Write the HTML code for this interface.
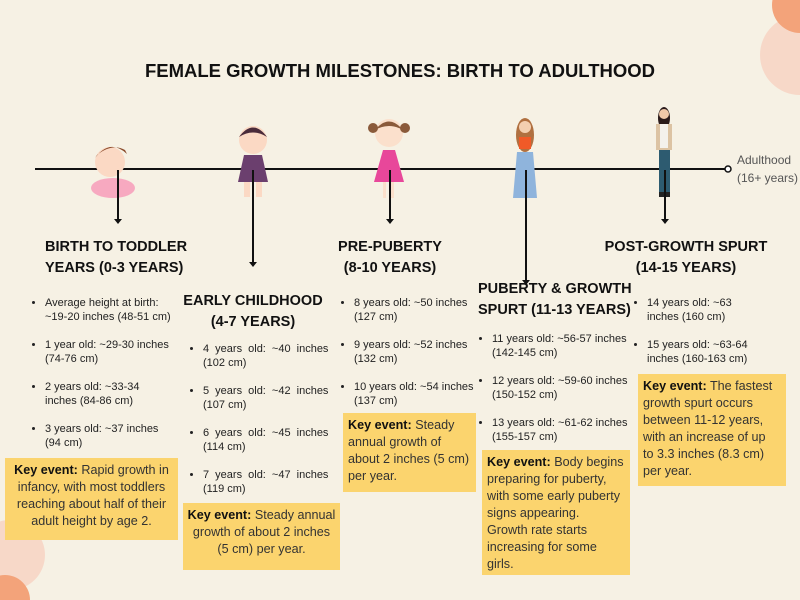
<!DOCTYPE html>
<html><head><meta charset="utf-8"><style>
body{margin:0;width:800px;height:600px;overflow:hidden;background:#f6f1e4;font-family:"Liberation Sans",sans-serif;color:#111;position:relative}
.a{position:absolute}
.h{position:absolute;font-weight:bold;font-size:14.5px;line-height:21px;white-space:nowrap}
.c{text-align:center}
ul{position:absolute;margin:0;padding:0 0 0 11px;font-size:11px;line-height:14px;color:#222;white-space:nowrap}
li{margin-bottom:14px}
.w{word-spacing:3px}
.k{position:absolute;background:#fbd46e;font-size:12.6px;line-height:17px;color:#333;padding:4px 5px;box-sizing:border-box;white-space:nowrap}
.k b{color:#111}
.ar{position:absolute;width:1.6px;background:#111}
.ar:after{content:"";position:absolute;left:-3px;bottom:-3px;border-left:4px solid transparent;border-right:4px solid transparent;border-top:5px solid #111}
</style></head><body>
<svg class="a" style="left:0;top:0" width="800" height="600">
<circle cx="800" cy="55" r="40" fill="#f7d8c8"/>
<circle cx="800" cy="5" r="28" fill="#f3a37a"/>
<circle cx="10" cy="555" r="35" fill="#f7d8c8"/>
<circle cx="5" cy="600" r="25" fill="#f3a37a"/>
<line x1="35" y1="169" x2="726" y2="169" stroke="#111" stroke-width="2"/>
<circle cx="728" cy="169" r="3" fill="#fff" stroke="#111" stroke-width="1.5"/>
<ellipse cx="113" cy="188" rx="22" ry="10" fill="#f7a9c0"/>
<circle cx="110" cy="162" r="15" fill="#fbd9c4"/>
<path d="M95 158 Q110 138 127 154 L125 150 Q112 143 97 155Z" fill="#8a4a2a"/>
<circle cx="253" cy="140" r="14" fill="#fbd9c4"/>
<path d="M239 137 Q253 118 267 137 Q253 128 239 137Z" fill="#4a2b3a"/>
<path d="M244 155 L262 155 L268 182 L238 182Z" fill="#6b3f6e"/>
<rect x="244" y="182" width="6" height="15" fill="#fbd9c4"/><rect x="256" y="182" width="6" height="15" fill="#fbd9c4"/>
<circle cx="389" cy="133" r="14" fill="#fbe0cc"/>
<path d="M375 130 Q389 113 403 130 Q389 122 375 130Z" fill="#8a5a3a"/>
<circle cx="373" cy="128" r="5" fill="#8a5a3a"/><circle cx="405" cy="128" r="5" fill="#8a5a3a"/>
<path d="M383 150 L395 150 L404 182 L374 182Z" fill="#e8479a"/>
<rect x="383" y="182" width="3" height="16" fill="#fbe0cc"/><rect x="391" y="182" width="3" height="16" fill="#fbe0cc"/>
<ellipse cx="525" cy="135" rx="9" ry="17" fill="#b07040"/>
<circle cx="525" cy="127" r="6" fill="#f3cfb0"/>
<rect x="519" y="137" width="12" height="12" fill="#f05a28"/>
<path d="M517 152 L533 152 L537 198 L513 198Z" fill="#8fb4dc"/>
<ellipse cx="664" cy="118" rx="6" ry="11" fill="#2a1a1a"/>
<circle cx="664" cy="114" r="5" fill="#f0c8a8"/>
<rect x="656" y="124" width="16" height="26" fill="#dcc3a3"/>
<rect x="660" y="124" width="8" height="24" fill="#f4f1ec"/>
<rect x="659" y="150" width="11" height="42" fill="#2d5b70"/>
<rect x="659" y="192" width="11" height="5" fill="#222"/>
</svg>
<div class="a" style="left:0;width:800px;top:60px;text-align:center;font-weight:bold;font-size:18.5px">FEMALE GROWTH MILESTONES: BIRTH TO ADULTHOOD</div>
<div class="a" style="left:737px;top:151px;font-size:12px;line-height:18px;color:#555">Adulthood<br>(16+ years)</div>
<div class="ar" style="left:117px;top:170px;height:51px"></div>
<div class="ar" style="left:252px;top:170px;height:94px"></div>
<div class="ar" style="left:389px;top:170px;height:51px"></div>
<div class="ar" style="left:525px;top:170px;height:112px"></div>
<div class="ar" style="left:664px;top:170px;height:51px"></div>

<div class="h" style="left:45px;top:237px">BIRTH TO TODDLER<br>YEARS (0-3 YEARS)</div>
<div class="h c" style="left:290px;width:200px;top:237px">PRE-PUBERTY<br>(8-10 YEARS)</div>
<div class="h c" style="left:586px;width:200px;top:237px">POST-GROWTH SPURT<br>(14-15 YEARS)</div>
<div class="h c" style="left:153px;width:200px;top:291px">EARLY CHILDHOOD<br>(4-7 YEARS)</div>
<div class="h" style="left:478px;top:279px">PUBERTY &amp; GROWTH<br>SPURT (11-13 YEARS)</div>

<ul style="left:34px;top:296px"><li>Average height at birth:<br>~19-20 inches (48-51 cm)</li><li>1 year old: ~29-30 inches<br>(74-76 cm)</li><li>2 years old: ~33-34<br>inches (84-86 cm)</li><li>3 years old: ~37 inches<br>(94 cm)</li></ul>
<ul style="left:192px;top:342px"><li><span class="w">4 years old: ~40 inches</span><br>(102 cm)</li><li><span class="w">5 years old: ~42 inches</span><br>(107 cm)</li><li><span class="w">6 years old: ~45 inches</span><br>(114 cm)</li><li><span class="w">7 years old: ~47 inches</span><br>(119 cm)</li></ul>
<ul style="left:343px;top:296px"><li>8 years old: ~50 inches<br>(127 cm)</li><li>9 years old: ~52 inches<br>(132 cm)</li><li>10 years old: ~54 inches<br>(137 cm)</li></ul>
<ul style="left:481px;top:332px"><li>11 years old: ~56-57 inches<br>(142-145 cm)</li><li>12 years old: ~59-60 inches<br>(150-152 cm)</li><li>13 years old: ~61-62 inches<br>(155-157 cm)</li></ul>
<ul style="left:636px;top:296px"><li>14 years old: ~63<br>inches (160 cm)</li><li>15 years old: ~63-64<br>inches (160-163 cm)</li></ul>

<div class="k c" style="left:5px;top:458px;width:173px;height:82px"><b>Key event:</b> Rapid growth in<br>infancy, with most toddlers<br>reaching about half of their<br>adult height by age 2.</div>
<div class="k c" style="left:183px;top:503px;width:157px;height:67px;padding:4px 2px"><b>Key event:</b> Steady annual<br>growth of about 2 inches<br>(5 cm) per year.</div>
<div class="k" style="left:343px;top:413px;width:133px;height:79px"><b>Key event:</b> Steady<br>annual growth of<br>about 2 inches (5 cm)<br>per year.</div>
<div class="k" style="left:482px;top:450px;width:148px;height:125px"><b>Key event:</b> Body begins<br>preparing for puberty,<br>with some early puberty<br>signs appearing.<br>Growth rate starts<br>increasing for some<br>girls.</div>
<div class="k" style="left:638px;top:374px;width:148px;height:112px"><b>Key event:</b> The fastest<br>growth spurt occurs<br>between 11-12 years,<br>with an increase of up<br>to 3.3 inches (8.3 cm)<br>per year.</div>
</body></html>
